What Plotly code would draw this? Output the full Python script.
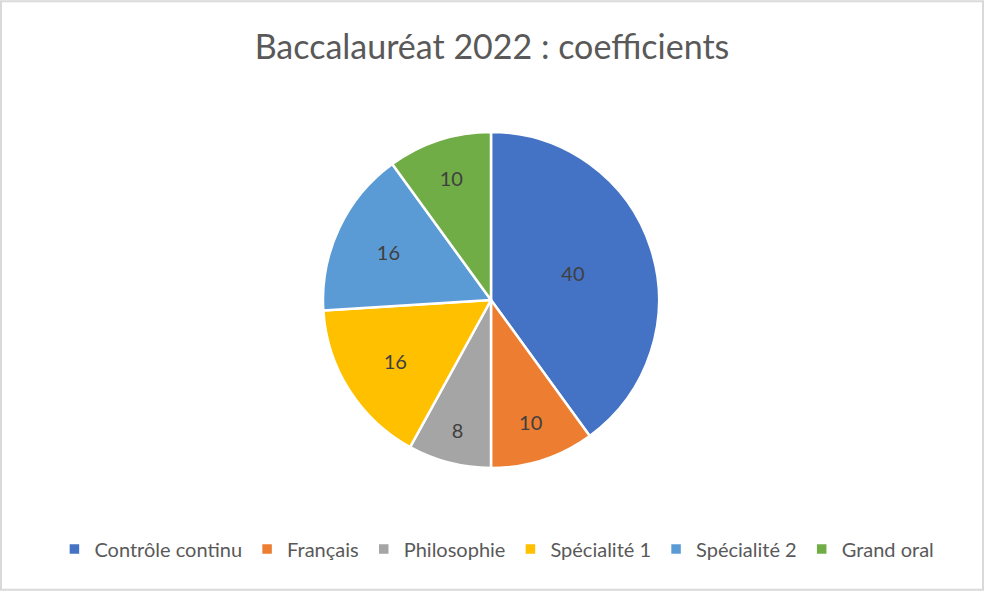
import plotly.graph_objects as go

# coefficients du bac 2022
matieres = ['Contrôle continu', 'Français', 'Philosophie', 'Spécialité 1', 'Spécialité 2', 'Grand oral']
coefficients = [40, 10, 8, 16, 16, 10]
couleurs = ['#4472C4', '#ED7D31', '#A5A5A5', '#FFC000', '#5B9BD5', '#70AD47']

W, H = 984, 591
cx, cy, r = 491, 300, 168
police = 'Lato'

fig = go.Figure(
    data = [
        go.Pie(
            labels = matieres,
            values = coefficients,
            sort = False,
            direction = 'clockwise',
            rotation = 0,
            marker = {'colors': couleurs, 'line': {'color': 'white', 'width': 2.5}},
            textinfo = 'value',
            textposition = 'inside',
            insidetextorientation = 'horizontal',
            textfont = {'family': police, 'size': 20, 'color': '#404040'},
            domain = {'x': [(cx - r) / W, (cx + r) / W],
                      'y': [(H - cy - r) / H, (H - cy + r) / H]},
            hoverinfo = 'label+value'
        )
    ]
)
fig.update_layout(
    width = W,
    height = H,
    margin = {'l': 0, 'r': 0, 't': 0, 'b': 0},
    paper_bgcolor = 'white',
    title = {'text': 'Baccalauréat 2022 : coefficients', 'x': 0.5, 'xanchor': 'center',
             'y': 1 - 47 / H, 'yanchor': 'middle',
             'font': {'family': police, 'size': 34, 'color': '#595959'}},
    legend = {'orientation': 'h', 'x': 0.505, 'xanchor': 'center', 'y': 1 - 549 / H, 'yanchor': 'middle',
              'font': {'family': police, 'size': 20, 'color': '#595959'},
              'itemwidth': 30, 'tracegroupgap': 0},
    shapes = [{'type': 'rect', 'xref': 'paper', 'yref': 'paper', 'x0': 0.001, 'x1': 0.999,
               'y0': 0.002, 'y1': 0.998, 'line': {'color': '#D9D9D9', 'width': 2}}]
)

# pas de marge autour du graphique dans la page
fig.write_html("out.html", config={'displayModeBar': False},
               post_script="document.body.style.margin='0px';")
